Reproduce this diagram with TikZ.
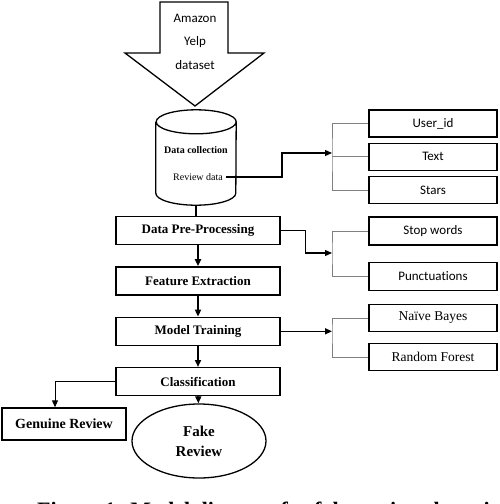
\documentclass[tikz,border=0pt]{standalone}
\usepackage{fontspec}
\setmainfont{Liberation Serif}
\newfontfamily\calfont[Ligatures=NoCommon]{Carlito}
\usetikzlibrary{arrows.meta,positioning,shapes}

\begin{document}
\begin{tikzpicture}[
        x=1pt, y=-1pt,
        node distance=21pt and 20pt,
        stage/.style={draw, line width=1.4pt, minimum width=164pt, minimum height=28pt, inner sep=0pt, font=\bfseries\fontsize{13}{15}\selectfont},
        leaf/.style={draw, line width=1.2pt, minimum width=128pt, minimum height=27pt, inner sep=0pt, font=\calfont\fontsize{13}{15}\selectfont},
        flow/.style={-{Triangle[length=7pt,width=6pt]}, line width=2.2pt},
        link/.style={-{Triangle[length=7pt,width=6pt]}, line width=1.2pt},
        fork/.style={draw=gray, line width=0.8pt}
    ]
    \useasboundingbox (0,0) rectangle (500,504);
    \clip (0,0) rectangle (500,504);

    % Source arrow
      \node (src) at (195,41.5) [align=center, font=\calfont\fontsize{13}{23.5}\selectfont] {Amazon\\Yelp\\dataset};
      \draw[line width=1.3pt] (160,2) -- (228,2) -- (228,53) -- (264,53) -- (195,106) -- (125,53) -- (160,53) -- cycle;

    % Data store
      \node (store)[minimum width=80pt, minimum height=95pt, inner sep=0pt] at (196,157.5) {};
      \draw[line width=1.3pt] ([yshift=-12pt]store.north west) -- ([yshift=12pt]store.south west)
        arc[start angle=180, end angle=360, x radius=40pt, y radius=12pt] -- ([yshift=-12pt]store.north east)
        arc[start angle=0, end angle=180, x radius=40pt, y radius=12pt]
        arc[start angle=180, end angle=360, x radius=40pt, y radius=12pt];
      \node (coll) at (196,150) [font=\bfseries\fontsize{10}{12}\selectfont] {Data collection};
      \node (rev) at (198,177) [font=\fontsize{10}{12}\selectfont] {Review data};

    % Main stages
      \node (pre)[stage] at (198,230.5) {Data Pre-Processing};
      \node (feat)[stage, below=of pre] {Feature Extraction};
      \node (train)[stage, below=of feat] {Model Training};
      \node (cls)[stage, below=of train] {Classification};

      \node (gen)[stage, minimum width=124pt, minimum height=32pt, font=\bfseries\fontsize{14}{16}\selectfont] at (64,424) {Genuine Review};
      \node (fake)[ellipse, draw, line width=1.3pt, minimum width=134pt, minimum height=74pt, inner sep=0pt, align=center, font=\bfseries\fontsize{15}{20}\selectfont] at (199,441) {Fake\\Review};

    % Right side
      \node (uid)[leaf] at (433,123.5) {User\_id};
      \node (txt)[leaf, below=5pt of uid] {Text};
      \node (stars)[leaf, below=5pt of txt] {Stars};

      \node (stop)[leaf, minimum height=28pt] at (433,231) {Stop words};
      \node (punc)[leaf, minimum height=28pt, below=16pt of stop] {Punctuations};

      \node (nb)[leaf, font=\fontsize{13.5}{15}\selectfont] at (433,318) {Naïve Bayes};
      \node (rf)[leaf, font=\fontsize{13.5}{15}\selectfont, below=11pt of nb] {Random Forest};

      \coordinate (jdata) at (332,153);
      \coordinate (jpre) at (332,253);
      \coordinate (jtrain) at (332,330);

    \draw[fork] (uid.west) -| (jdata) |- (stars.west);
    \draw[fork] (txt.west) -- (txt.west -| jdata);
    \draw[fork] (stop.west) -| (jpre) |- (punc.west);
    \draw[fork] (nb.west) -| (jtrain) |- (rf.west);

    \draw[link] (rev.east) -| ([xshift=-50pt]jdata) -- (jdata);
    \draw[link] (pre.east) -- ++(25pt,0) |- (jpre);
    \draw[link, line width=1.5pt] (train.east) -- (train.east -| jtrain);

    \draw[line width=2.5pt] (store.south) -- (store.south |- pre.north);
    \draw[flow] (pre) -- (feat);
    \draw[flow] (feat) -- (train);
    \draw[flow] (train) -- (cls);
    \draw[flow] (cls) -- (fake);
    \draw[link, line width=0.9pt] (cls.west) -| ([xshift=-9pt]gen.north);

    % Caption (cut by the lower edge)
      \node (cap)[anchor=base west, inner sep=0pt, font=\bfseries\fontsize{22}{24}\selectfont] at (37,517) {Figure 1: Model diagram for fake review detection};

    \end{tikzpicture}
\end{document}
